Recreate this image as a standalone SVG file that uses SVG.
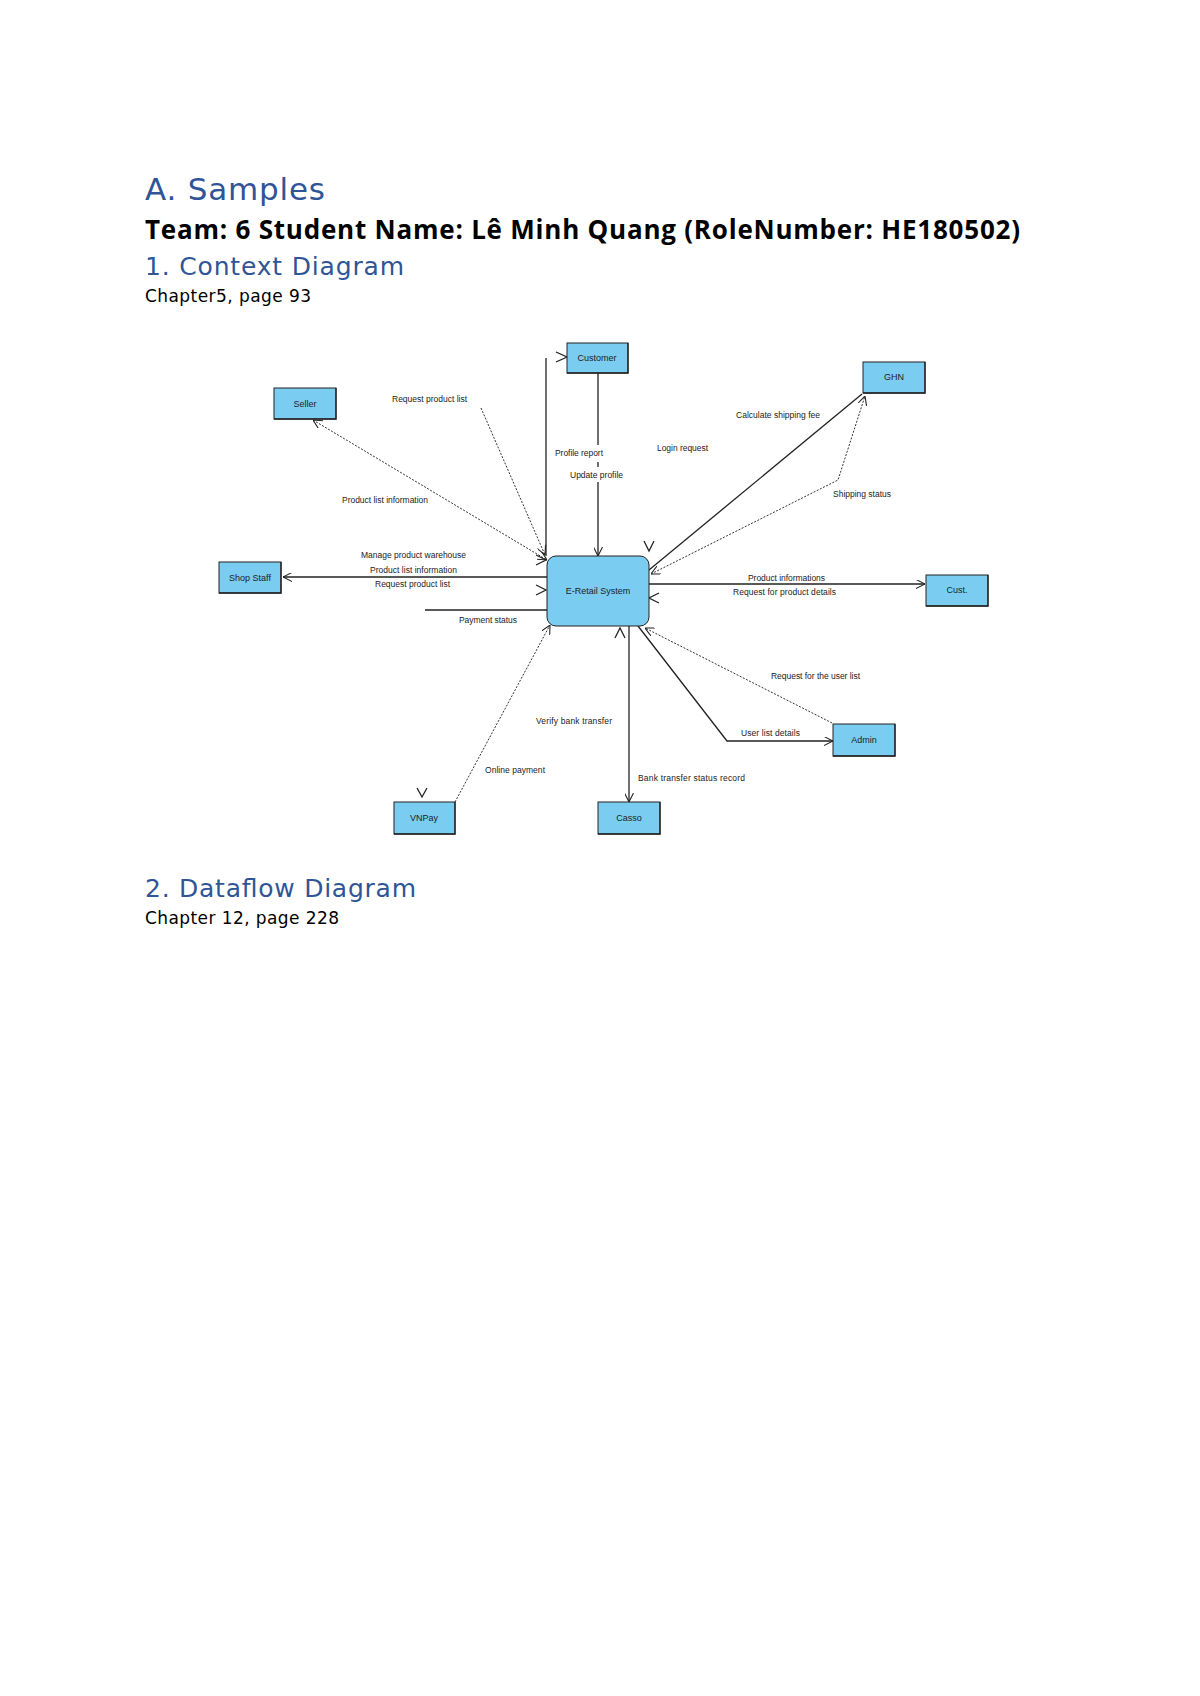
<svg xmlns="http://www.w3.org/2000/svg" width="1200" height="1696" viewBox="0 0 1200 1696">
<style>
.h{font-family:"DejaVu Sans",sans-serif;fill:#2F5597}
.b{font-family:"Open Sans","Liberation Sans",sans-serif;font-weight:bold;fill:#000}
.p{font-family:"DejaVu Sans",sans-serif;fill:#000}
.box{fill:#7ACDF1;stroke:#222;stroke-width:1}
.bt{font-family:"Liberation Sans",Arial,sans-serif;font-size:9px;fill:#222;text-anchor:middle}
.lb{font-family:"Liberation Sans",Arial,sans-serif;font-size:8.5px;fill:#222}
.s{stroke:#222;stroke-width:1.3;fill:none}
.d{stroke:#333;stroke-width:1;fill:none;stroke-dasharray:2,1.5}
</style>
<defs>
<marker id="a" viewBox="0 0 10 10" refX="10" refY="5" markerWidth="9" markerHeight="9" orient="auto-start-reverse" markerUnits="userSpaceOnUse"><path d="M0,0 L10,5 L0,10" fill="none" stroke="#222" stroke-width="1.2"/></marker>
</defs>
<rect width="1200" height="1696" fill="#fff"/>
<text class="h" x="145" y="200" font-size="31" textLength="180">A. Samples</text>
<text class="b" x="145" y="239" font-size="26" textLength="875">Team: 6 Student Name: Lê Minh Quang (RoleNumber: HE180502)</text>
<text class="h" x="145" y="275" font-size="25" textLength="259">1. Context Diagram</text>
<text class="p" x="145" y="302" font-size="17" textLength="166">Chapter5, page 93</text>
<text class="h" x="145" y="897" font-size="25" textLength="271">2. Dataflow Diagram</text>
<text class="p" x="145" y="924" font-size="17" textLength="194">Chapter 12, page 228</text>

<g id="connectors">
<path class="s" d="M546,556 V358" />
<path class="s" d="M556,352 L567,357 L556,362"/>
<path class="s" d="M598,373 V445 M598,462 V467 M598,482 V556" marker-end="url(#a)"/>
<path class="d" d="M313,420 L547,560" marker-start="url(#a)" marker-end="url(#a)"/>
<path class="d" d="M481,408 L545,555" marker-end="url(#a)"/>
<path class="s" d="M547,577 H283" marker-end="url(#a)"/>
<path class="s" d="M536,555 L546,560 L536,565 M536,585 L546,590 L536,595"/>
<path class="s" d="M425,610 H547"/>
<path class="s" d="M649,570 L862,394"/>
<path class="d" d="M651,574 L838,480 L865,396" marker-start="url(#a)" marker-end="url(#a)"/>
<path class="s" d="M644,541 L649,551 L654,541"/>
<path class="s" d="M649,584 H925" marker-end="url(#a)"/>
<path class="s" d="M659,593 L649,598 L659,603"/>
<path class="d" d="M455,802 L550,625" marker-end="url(#a)"/>
<path class="s" d="M417,788 L422,797 L427,788"/>
<path class="s" d="M629,626 V802" marker-end="url(#a)"/>
<path class="s" d="M615,638 L620,628 L625,638"/>
<path class="d" d="M832,723 L645,628" marker-end="url(#a)"/>
<path class="s" d="M638,626 L727,741 H833" marker-end="url(#a)"/>
</g>

<g id="labels">
<text class="lb" x="392" y="402" textLength="75">Request product list</text>
<text class="lb" x="342" y="503" textLength="86">Product list information</text>
<text class="lb" x="555" y="456" textLength="48">Profile report</text>
<text class="lb" x="570" y="478" textLength="53">Update profile</text>
<text class="lb" x="657" y="451" textLength="51">Login request</text>
<text class="lb" x="736" y="418" textLength="84">Calculate shipping fee</text>
<text class="lb" x="833" y="497" textLength="58">Shipping status</text>
<text class="lb" x="361" y="558" textLength="105">Manage product warehouse</text>
<text class="lb" x="370" y="573" textLength="87">Product list information</text>
<text class="lb" x="375" y="587" textLength="75">Request product list</text>
<text class="lb" x="459" y="623" textLength="58">Payment status</text>
<text class="lb" x="748" y="581" textLength="77">Product informations</text>
<text class="lb" x="733" y="595" textLength="103">Request for product details</text>
<text class="lb" x="536" y="724" textLength="76">Verify bank transfer</text>
<text class="lb" x="485" y="773" textLength="60">Online payment</text>
<text class="lb" x="638" y="781" textLength="107">Bank transfer status record</text>
<text class="lb" x="771" y="679" textLength="89">Request for the user list</text>
<text class="lb" x="741" y="736" textLength="59">User list details</text>
</g>

<g id="system"><rect class="box" x="547" y="556" width="102" height="70" rx="9"/><text class="bt" x="598" y="594">E-Retail System</text></g>
<g id="customer"><rect class="box" x="567" y="343" width="61" height="30"/><path class="s" d="M567,373 H628 V343"/><text class="bt" x="597" y="361">Customer</text></g>
<g id="seller"><rect class="box" x="274" y="388" width="62" height="31"/><path class="s" d="M274,419 H336 V388"/><text class="bt" x="305" y="407">Seller</text></g>
<g id="shopstaff"><rect class="box" x="219" y="562" width="62" height="31"/><path class="s" d="M219,593 H281 V562"/><text class="bt" x="250" y="581">Shop Staff</text></g>
<g id="ghn"><rect class="box" x="863" y="362" width="62" height="31"/><path class="s" d="M863,393 H925 V362"/><text class="bt" x="894" y="380">GHN</text></g>
<g id="cust"><rect class="box" x="926" y="575" width="62" height="31"/><path class="s" d="M926,606 H988 V575"/><text class="bt" x="957" y="593">Cust.</text></g>
<g id="vnpay"><rect class="box" x="394" y="802" width="61" height="32"/><path class="s" d="M394,834 H455 V802"/><text class="bt" x="424" y="821">VNPay</text></g>
<g id="casso"><rect class="box" x="598" y="802" width="62" height="32"/><path class="s" d="M598,834 H660 V802"/><text class="bt" x="629" y="821">Casso</text></g>
<g id="admin"><rect class="box" x="833" y="724" width="62" height="32"/><path class="s" d="M833,756 H895 V724"/><text class="bt" x="864" y="743">Admin</text></g>
</svg>
